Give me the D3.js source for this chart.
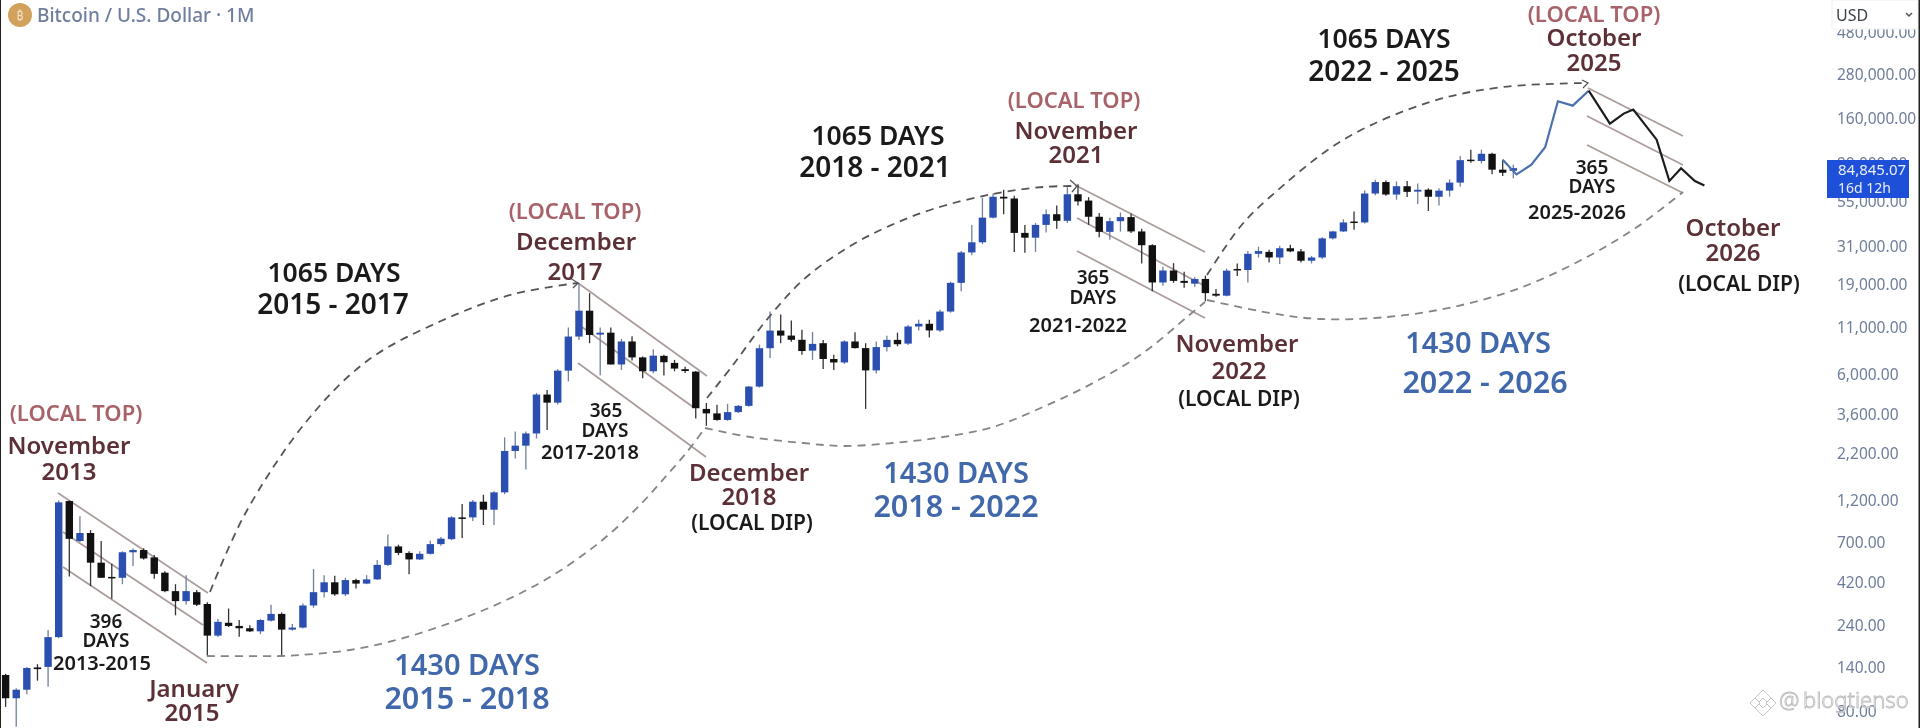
<!DOCTYPE html>
<html>
<head>
<meta charset="utf-8">
<title>Bitcoin / U.S. Dollar 1M</title>
<script src="https://d3js.org/d3.v7.min.js"></script>
<style>
  html, body { margin: 0; padding: 0; background: #fff; overflow: hidden; }
  text { font-family: "Noto Sans", sans-serif; }
  svg { filter: blur(0.4px); }
</style>
</head>
<body>
<div id="chart"></div>
<script>
// monthly candles Jun 2013 - Apr 2025
const months = d3.utcMonth.range(new Date(Date.UTC(2013, 5, 1)), new Date(Date.UTC(2025, 4, 1)));

const opens = [128,95,106,141,142,208,1190,
  713,790,540,450,445,617,635,578,475,375,330,370,
  318,212,250,240,233,224,257,280,229,235,312,370,
  420,360,432,413,436,525,665,612,563,605,685,730,
  965,965,1180,1065,1330,2261,2420,2830,4660,4200,6330,9800,
  13650,10050,10300,6850,9200,7500,6280,7650,6990,6450,6250,3875,
  3660,3365,3720,4030,5160,8440,10580,9920,9400,8180,9000,7350,
  7030,9200,8450,6350,8560,9390,8950,11150,11540,10600,13500,19500,
  28800,32800,45000,58800,57500,37000,34800,41000,47000,43200,60700,56000,
  45500,37500,43000,45300,37700,31600,19600,22850,20000,19300,20500,16950,
  16550,23300,23000,28300,29000,27000,30400,29200,25900,27000,34500,37700,
  42800,42300,61300,71000,60500,67300,62800,64400,58800,63600,70500,94600,
  93000,102000,83200,82000];
const highs = [130,108,142,147,228,1200,1200,
  980,820,713,532,625,650,650,595,484,410,460,380,
  325,262,300,259,242,262,315,285,246,320,498,460,
  456,445,440,460,558,775,680,625,625,715,750,980,
  1147,1205,1290,1350,2690,2900,2900,4750,4945,6450,11000,19500,
  17100,11000,11000,9500,9830,7600,8340,7750,7266,6660,6300,4180,
  4090,4140,4080,5200,8840,13500,13000,12050,10680,10400,9390,7750,
  9350,10350,9000,9200,9900,10300,11350,12140,12140,13800,19800,29300,
  41000,58000,61300,64300,59500,41000,42000,50000,52500,66500,69000,58500,
  47800,44900,48000,47400,39000,32000,24000,25100,22500,21000,21400,18000,
  23400,25000,29300,31000,29800,31400,31800,30100,27500,35000,38000,44000,
  48700,63800,73100,72500,71500,72000,69800,65500,65500,73500,99000,107500,
  107500,103500,94600,88500];
const lows = [85,66,100,119,110,205,452,
  705,400,445,340,410,518,562,440,370,275,315,310,
  163,208,237,209,222,216,254,162,226,232,303,346,
  354,352,388,410,432,518,595,466,558,600,670,720,
  741,920,875,875,1300,2050,1785,2650,2960,4100,5500,9390,
  9000,5960,6850,6390,7200,5740,6120,5950,6280,6150,3430,3120,
  3330,3330,3680,3990,5100,7440,9000,9170,7750,7266,6470,6390,
  6900,8400,3875,6100,8080,8650,8800,10600,9680,10400,13300,17500,
  27800,32000,44500,47000,29000,28700,29000,37200,39000,42000,52500,41000,
  35000,33900,37600,37000,25000,17500,18800,19500,18300,18500,15400,16300,
  16400,21300,19600,27000,25300,24800,28900,25300,25000,26500,34000,37500,
  38500,41800,60000,59500,56600,58600,53600,49000,52500,58900,66800,91000,
  90000,78500,76700,74500];
const closes = [95,106,140,138,208,1170,733,
  790,540,445,447,617,635,570,468,375,330,375,315,
  212,253,240,233,224,259,280,229,235,312,370,420,
  360,432,413,436,525,665,612,563,605,685,735,965,
  960,1180,1065,1330,2261,2420,2830,4660,4200,6330,9800,13650,
  10000,10300,6850,9200,7500,6280,7670,7050,6500,6300,3910,3660,
  3365,3720,4030,5160,8440,10580,9920,9400,8140,8920,7350,7030,
  9200,8450,6350,8560,9390,8880,11150,11540,10600,13500,19500,28800,
  32800,45000,58800,57500,37000,34800,41000,47000,43200,60700,55400,45500,
  37500,43000,45300,37700,31600,19600,22850,20000,19500,20500,17100,16550,
  22800,23000,28300,29300,27000,30400,29200,25900,27000,34500,37700,42300,
  42300,61300,71000,60500,67300,62600,64300,58800,63600,70500,94000,93000,
  102000,83200,80000,84845];

// drawn projection after the last candle (x = months since Jun 2013)
const riseMonths = [141, 142.3, 143.7, 145, 146.2, 147.6, 149.1];
const risePrices = [94600, 78300, 88600, 111000, 200000, 189000, 229000];
const fallMonths = [149.1, 151.1, 152.4, 153.3, 155.5, 156.7, 157.8, 159.1, 160];
const fallPrices = [229000, 150000, 170700, 179700, 122200, 72000, 84800, 72000, 68000];

const priceTicks = [80, 140, 240, 420, 700, 1200, 2200, 3600, 6000, 11000, 19000, 31000, 55000, 90000, 160000, 280000, 480000];

const width = 1920, height = 728;
const upColor = "#2b4fb0", downColor = "#111111";

const svg = d3.select("#chart").append("svg")
  .attr("width", width).attr("height", height)
  .attr("viewBox", [0, 0, width, height])
  .style("display", "block");

const x = d3.scaleLinear().domain([5, 142]).range([58.7, 1513.3]);
const y = d3.scaleLog().domain([140, 280000]).range([668, 75]);

const candles = months.map((m, i) => ({ i, o: opens[i], h: highs[i], l: lows[i], c: closes[i] }));
const isUp = d => d.c >= d.o;

const plot = svg.append("g");

// channels under the candles
const channels = [
  [[58, 493], [208, 593]], [[63, 532], [203, 625]], [[63, 567], [207, 663]],
  [[578, 283], [707, 376]], [[582, 327], [693, 407]], [[578, 363], [706, 457]],
  [[1075, 185], [1205, 252]], [[1077, 218], [1203, 285]], [[1077, 251], [1205, 318]],
  [[1588, 88], [1683, 136]], [[1587, 116], [1683, 165]], [[1587, 145], [1683, 193]]
];
plot.append("g").selectAll("line").data(channels).join("line")
  .attr("x1", d => d[0][0]).attr("y1", d => d[0][1])
  .attr("x2", d => d[1][0]).attr("y2", d => d[1][1])
  .attr("stroke", "#aa9c9a").attr("stroke-width", 1.7);

plot.append("g").selectAll("line").data(candles).join("line")
  .attr("x1", d => x(d.i)).attr("x2", d => x(d.i))
  .attr("y1", d => y(d.h)).attr("y2", d => y(d.l))
  .attr("stroke", d => isUp(d) ? "#6f7f9f" : "#333")
  .attr("stroke-width", 1.3);

plot.append("g").selectAll("rect").data(candles).join("rect")
  .attr("x", d => x(d.i) - 3.7)
  .attr("width", 7.4)
  .attr("y", d => y(Math.max(d.o, d.c)))
  .attr("height", d => Math.max(1.5, Math.abs(y(d.o) - y(d.c))))
  .attr("fill", d => isUp(d) ? upColor : downColor);

const line = d3.line().x(d => x(d[0])).y(d => y(d[1]));
plot.append("path").datum(d3.zip(riseMonths, risePrices))
  .attr("d", line).attr("fill", "none").attr("stroke", "#4a70ad").attr("stroke-width", 2.2);
plot.append("path").datum(d3.zip(fallMonths, fallPrices))
  .attr("d", line).attr("fill", "none").attr("stroke", "#1c1c1c").attr("stroke-width", 2.2);

// hand drawn dashed arcs, the upper ones are darker
const upperArcs = [
  [[210, 592], [245, 514], [306, 422], [367, 361], [441, 321], [514, 294], [578, 283]],
  [[707, 398], [733, 365], [765, 322], [803, 280], [847, 248], [887, 227], [933, 209], [993, 194], [1043, 187], [1075, 186]],
  [[1207, 275], [1240, 227], [1270, 197], [1343, 140], [1430, 102], [1503, 87], [1587, 83]]
];
const lowerArcs = [
  [[207, 656], [281, 656], [300, 655], [350, 650], [400, 639], [450, 623], [500, 603], [550, 577], [600, 542], [640, 505], [667, 475], [687, 452], [705, 428]],
  [[705, 428], [750, 437], [803, 443], [843, 446], [893, 443], [943, 437], [993, 427], [1043, 407], [1093, 383], [1143, 353], [1187, 317], [1205, 302]],
  [[1207, 300], [1270, 313], [1320, 319], [1387, 317], [1453, 307], [1520, 288], [1587, 257], [1637, 227], [1683, 192]]
];
const arcLine = d3.line().curve(d3.curveCatmullRom);
svg.append("g").selectAll("path").data(upperArcs).join("path")
  .attr("d", arcLine).attr("fill", "none")
  .attr("stroke", "#555").attr("stroke-width", 1.8).attr("stroke-dasharray", "8 6");
svg.append("g").selectAll("path").data(lowerArcs).join("path")
  .attr("d", arcLine).attr("fill", "none")
  .attr("stroke", "#858585").attr("stroke-width", 1.8).attr("stroke-dasharray", "8 6");

const arrowHeads = [
  [[570, 278], [578, 283], [573, 288]],
  [[1070, 180], [1077, 186], [1072, 192]],
  [[1582, 80], [1588, 83], [1583, 88]]
];
svg.append("g").selectAll("path").data(arrowHeads).join("path")
  .attr("d", d3.line()).attr("fill", "none").attr("stroke", "#555").attr("stroke-width", 1.3);

// price axis on the right
const axis = d3.axisRight(y).tickValues(priceTicks).tickSize(0).tickPadding(0)
  .tickFormat(d3.format(",.2f"));
const axisG = svg.append("g").attr("transform", "translate(1837,0)").call(axis);
axisG.select(".domain").remove();
axisG.selectAll("text").attr("fill", "#6d7d9b").attr("font-size", 15.5).attr("font-family", "Noto Sans");

// USD selector and last price tag
svg.append("rect").attr("x", 1832).attr("y", 0).attr("width", 86).attr("height", 29).attr("fill", "#fff").attr("stroke", "#f0f0f0");
svg.append("text").attr("x", 1836).attr("y", 21).attr("font-size", 16).attr("fill", "#3c4048").text("USD");
svg.append("path").attr("d", "M1906,13 l3,3 l3,-3").attr("fill", "none").attr("stroke", "#555").attr("stroke-width", 1.5);

svg.append("rect").attr("x", 1827).attr("y", 160).attr("width", 82).attr("height", 38).attr("fill", "#1e4fd8");
svg.append("text").attr("x", 1838).attr("y", 175).attr("font-size", 15).attr("fill", "#e8eefc").text("84,845.07");
svg.append("text").attr("x", 1838).attr("y", 193).attr("font-size", 14).attr("fill", "#e8eefc").text("16d 12h");

// header
svg.append("circle").attr("cx", 20).attr("cy", 15).attr("r", 12).attr("fill", "#d2a25c");
svg.append("text").attr("x", 20).attr("y", 20).attr("text-anchor", "middle").attr("font-size", 12).attr("fill", "#f4e2c4").text("₿");
svg.append("text").attr("x", 37).attr("y", 22).attr("font-size", 19).attr("font-weight", 500).attr("fill", "#6f7e9e")
  .text("Bitcoin / U.S. Dollar · 1M");

// annotation texts: text, x, y, size, colour
const top_ = "#a8626a", dark = "#5c3037", ink = "#1a1a1a", blue = "#4168aa";
const notes = [
  ["(LOCAL TOP)", 76, 413, 22, top_], ["November", 69, 445, 24, dark], ["2013", 69, 471, 24, dark],
  ["396", 106, 621, 19, ink], ["DAYS", 106, 640, 19, ink], ["2013-2015", 102, 663, 20, ink],
  ["January", 194, 688, 24, dark], ["2015", 192, 712, 24, dark],
  ["1065 DAYS", 334, 272, 26.5, ink], ["2015 - 2017", 333, 304, 28, ink],
  ["1430 DAYS", 467, 665, 29, blue], ["2015 - 2018", 467, 698, 30.5, blue],
  ["(LOCAL TOP)", 575, 211, 22, top_], ["December", 576, 241, 24, dark], ["2017", 575, 271, 24, dark],
  ["365", 606, 410, 19, ink], ["DAYS", 605, 430, 19, ink], ["2017-2018", 590, 452, 20, ink],
  ["December", 749, 472, 24, dark], ["2018", 749, 496, 24, dark], ["(LOCAL DIP)", 752, 522, 21, ink],
  ["1430 DAYS", 956, 473, 29, blue], ["2018 - 2022", 956, 506, 30.5, blue],
  ["1065 DAYS", 878, 135, 26.5, ink], ["2018 - 2021", 875, 167, 28, ink],
  ["(LOCAL TOP)", 1074, 100, 22, top_], ["November", 1076, 130, 24, dark], ["2021", 1076, 154, 24, dark],
  ["365", 1093, 277, 19, ink], ["DAYS", 1093, 297, 19, ink], ["2021-2022", 1078, 325, 20, ink],
  ["November", 1237, 343, 24, dark], ["2022", 1239, 370, 24, dark], ["(LOCAL DIP)", 1239, 398, 21, ink],
  ["1430 DAYS", 1478, 343, 29, blue], ["2022 - 2026", 1485, 382, 30.5, blue],
  ["1065 DAYS", 1384, 38, 26.5, ink], ["2022 - 2025", 1384, 71, 28, ink],
  ["(LOCAL TOP)", 1594, 14, 22, top_], ["October", 1594, 37, 24, dark], ["2025", 1594, 62, 24, dark],
  ["365", 1592, 167, 19, ink], ["DAYS", 1592, 186, 19, ink], ["2025-2026", 1577, 212, 20, ink],
  ["October", 1733, 227, 24, dark], ["2026", 1733, 252, 24, dark], ["(LOCAL DIP)", 1739, 283, 21, ink]
];
svg.append("g").selectAll("text").data(notes).join("text")
  .attr("x", d => d[1]).attr("y", d => d[2]).attr("dy", "0.36em")
  .attr("text-anchor", "middle")
  .attr("font-size", d => d[3]).attr("font-weight", 600)
  .attr("fill", d => d[4]).text(d => d[0]);

// watermark
const mark = svg.append("g").attr("fill", "#fff").attr("stroke", "#b9b9b9").attr("stroke-width", 0.8);
mark.append("path").attr("d", "M1763,690 l8,8 l-4,4 l-4,-4 l-4,4 l-4,-4 z M1750,703 l5,-5 l5,5 l-5,5 z M1766,703 l5,-5 l5,5 l-5,5 z M1763,716 l-8,-8 l4,-4 l4,4 l4,-4 l4,4 z");
mark.append("text").attr("x", 1779).attr("y", 709).attr("font-size", 23).attr("font-weight", 300).text("@");
mark.append("text").attr("x", 1803).attr("y", 708).attr("font-size", 22).attr("font-weight", 300).text("blogtienso");

// dark edges of the screenshot
svg.append("rect").attr("x", 0).attr("y", 0).attr("width", 1).attr("height", height).attr("fill", "#222");
svg.append("rect").attr("x", 1918.5).attr("y", 0).attr("width", 1.5).attr("height", height).attr("fill", "#222");
</script>
</body>
</html>
